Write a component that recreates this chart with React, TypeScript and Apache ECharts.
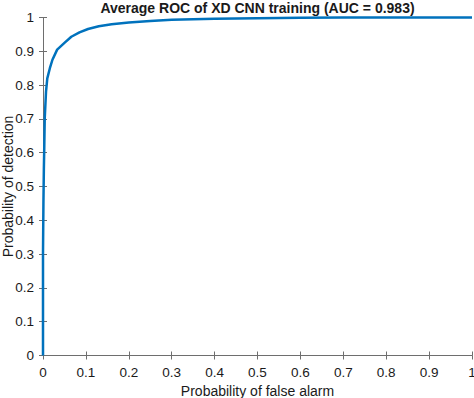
import React, { useEffect, useRef } from "react";
import * as echarts from "echarts";

const falseAlarm = [0, 0, 0.001, 0.002, 0.003, 0.004, 0.007, 0.01, 0.016, 0.022, 0.033, 0.05, 0.066, 0.085, 0.105, 0.13, 0.16, 0.2, 0.25, 0.3, 0.4, 0.5, 0.6, 0.7, 0.8, 0.9, 1];
const detection = [0, 0.3, 0.45, 0.55, 0.62, 0.7, 0.78, 0.82, 0.85, 0.875, 0.905, 0.925, 0.943, 0.956, 0.966, 0.974, 0.98, 0.985, 0.99, 0.993, 0.996, 0.998, 0.999, 1, 1, 1, 1];
const tickLabels = ["0", "0.1", "0.2", "0.3", "0.4", "0.5", "0.6", "0.7", "0.8", "0.9", "1"];

const titleText = "Average ROC of XD CNN training (AUC = 0.983)";
const xName = "Probability of false alarm";
const yName = "Probability of detection";

const FONT = "'Liberation Sans', Arial, sans-serif";
const BOX = "#6e6e6e";
const TEXT = "#1a1a1a";

const fmt = (v: number) => tickLabels[Math.round(v * 10)] ?? String(v);

export default function App() {
  const ref = useRef<HTMLDivElement>(null);
  useEffect(() => {
    if (!ref.current) return;
    const chart = echarts.init(ref.current, undefined, { renderer: "svg" });
    const axisCommon = {
      type: "value" as const,
      min: 0,
      max: 1,
      interval: 0.1,
      splitLine: { show: false },
      axisLine: { show: true, lineStyle: { color: BOX, width: 1 } },
      axisTick: { show: true, inside: true, length: 4, lineStyle: { color: BOX } },
    };
    chart.setOption({
      animation: false,
      backgroundColor: "#ffffff",
      grid: { left: 43, right: 2, top: 17.5, bottom: 42.5, containLabel: false, outerBoundsMode: "none" },
      graphic: [
        {
          type: "text",
          x: 257.5,
          y: 7.5,
          style: {
            text: titleText,
            fontFamily: FONT,
            fontWeight: "bold",
            fontSize: 14,
            fill: TEXT,
            textAlign: "center",
            textVerticalAlign: "middle",
          },
        },
      ],
      xAxis: [
        {
          ...axisCommon,
          position: "bottom",
          name: xName,
          nameLocation: "middle",
          nameGap: 25,
          nameTextStyle: { fontFamily: FONT, fontSize: 14, color: TEXT },
          axisLabel: { show: true, margin: 10, formatter: fmt, fontFamily: FONT, fontSize: 13.5, color: TEXT },
        },
        {
          ...axisCommon,
          position: "top",
          axisLabel: { show: false },
        },
      ],
      yAxis: [
        {
          ...axisCommon,
          position: "left",
          name: yName,
          nameLocation: "middle",
          nameGap: 28.5,
          nameMoveOverlap: false,
          nameTextStyle: { fontFamily: FONT, fontSize: 14, color: TEXT },
          axisLabel: { show: true, margin: 9, formatter: fmt, fontFamily: FONT, fontSize: 13.5, color: TEXT },
        },
        {
          ...axisCommon,
          position: "right",
          axisLabel: { show: false },
        },
      ],
      series: [
        {
          type: "line",
          data: falseAlarm.map((x, i) => [x, detection[i]]),
          showSymbol: false,
          smooth: false,
          clip: false,
          lineStyle: { color: "#0072BD", width: 2.5 },
          z: 5,
        },
      ],
    });
    return () => chart.dispose();
  }, []);
  return (
    <div
      ref={ref}
      style={{ position: "fixed", left: 0, top: 0, width: 474, height: 398, background: "#fff" }}
    />
  );
}
